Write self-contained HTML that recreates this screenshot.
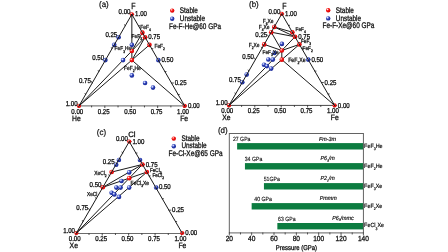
<!DOCTYPE html>
<html><head><meta charset="utf-8"><title>Phase diagrams</title>
<style>html,body{margin:0;padding:0;background:#fff;}svg{display:block;}</style></head><body>
<svg width="448" height="252" viewBox="0 0 448 252" font-family="Liberation Sans, sans-serif" text-rendering="geometricPrecision">
<defs>
<radialGradient id="gr" cx="0.36" cy="0.33" r="0.68"><stop offset="0" stop-color="#ffffff"/><stop offset="0.16" stop-color="#ff9a90"/><stop offset="0.42" stop-color="#f41616"/><stop offset="1" stop-color="#dc0000"/></radialGradient>
<radialGradient id="gb" cx="0.36" cy="0.33" r="0.68"><stop offset="0" stop-color="#ffffff"/><stop offset="0.2" stop-color="#a0aef0"/><stop offset="0.5" stop-color="#2a3eb2"/><stop offset="1" stop-color="#1a2a98"/></radialGradient>
</defs>
<rect x="0" y="0" width="448" height="252" fill="#fff"/>
<line x1="79.00" y1="105.90" x2="184.70" y2="105.90" stroke="#7e7e7e" stroke-width="1.3" stroke-linecap="round"/>
<line x1="78.40" y1="106.10" x2="78.40" y2="107.60" stroke="#222" stroke-width="0.8" stroke-linecap="round"/>
<line x1="91.61" y1="106.10" x2="91.61" y2="107.00" stroke="#222" stroke-width="0.8" stroke-linecap="round"/>
<line x1="104.83" y1="106.10" x2="104.83" y2="107.60" stroke="#222" stroke-width="0.8" stroke-linecap="round"/>
<line x1="118.04" y1="106.10" x2="118.04" y2="107.00" stroke="#222" stroke-width="0.8" stroke-linecap="round"/>
<line x1="131.25" y1="106.10" x2="131.25" y2="107.60" stroke="#222" stroke-width="0.8" stroke-linecap="round"/>
<line x1="144.46" y1="106.10" x2="144.46" y2="107.00" stroke="#222" stroke-width="0.8" stroke-linecap="round"/>
<line x1="157.67" y1="106.10" x2="157.67" y2="107.60" stroke="#222" stroke-width="0.8" stroke-linecap="round"/>
<line x1="170.89" y1="106.10" x2="170.89" y2="107.00" stroke="#222" stroke-width="0.8" stroke-linecap="round"/>
<line x1="184.10" y1="106.10" x2="184.10" y2="107.60" stroke="#222" stroke-width="0.8" stroke-linecap="round"/>
<line x1="184.70" y1="105.90" x2="186.70" y2="105.90" stroke="#222" stroke-width="0.8" stroke-linecap="round"/>
<line x1="178.09" y1="94.46" x2="179.29" y2="94.46" stroke="#222" stroke-width="0.8" stroke-linecap="round"/>
<line x1="171.49" y1="83.01" x2="173.49" y2="83.01" stroke="#222" stroke-width="0.8" stroke-linecap="round"/>
<line x1="164.88" y1="71.57" x2="166.08" y2="71.57" stroke="#222" stroke-width="0.8" stroke-linecap="round"/>
<line x1="158.27" y1="60.12" x2="160.27" y2="60.12" stroke="#222" stroke-width="0.8" stroke-linecap="round"/>
<line x1="151.67" y1="48.68" x2="152.87" y2="48.68" stroke="#222" stroke-width="0.8" stroke-linecap="round"/>
<line x1="145.06" y1="37.24" x2="147.06" y2="37.24" stroke="#222" stroke-width="0.8" stroke-linecap="round"/>
<line x1="138.46" y1="25.79" x2="139.66" y2="25.79" stroke="#222" stroke-width="0.8" stroke-linecap="round"/>
<line x1="131.85" y1="14.35" x2="133.85" y2="14.35" stroke="#222" stroke-width="0.8" stroke-linecap="round"/>
<line x1="131.85" y1="14.35" x2="130.85" y2="12.62" stroke="#222" stroke-width="0.8" stroke-linecap="round"/>
<line x1="125.24" y1="25.79" x2="124.64" y2="24.75" stroke="#222" stroke-width="0.8" stroke-linecap="round"/>
<line x1="118.64" y1="37.24" x2="117.64" y2="35.51" stroke="#222" stroke-width="0.8" stroke-linecap="round"/>
<line x1="112.03" y1="48.68" x2="111.43" y2="47.64" stroke="#222" stroke-width="0.8" stroke-linecap="round"/>
<line x1="105.42" y1="60.12" x2="104.42" y2="58.39" stroke="#222" stroke-width="0.8" stroke-linecap="round"/>
<line x1="98.82" y1="71.57" x2="98.22" y2="70.53" stroke="#222" stroke-width="0.8" stroke-linecap="round"/>
<line x1="92.21" y1="83.01" x2="91.21" y2="81.28" stroke="#222" stroke-width="0.8" stroke-linecap="round"/>
<line x1="85.61" y1="94.46" x2="85.01" y2="93.42" stroke="#222" stroke-width="0.8" stroke-linecap="round"/>
<line x1="79.00" y1="105.90" x2="78.00" y2="104.17" stroke="#222" stroke-width="0.8" stroke-linecap="round"/>
<text transform="translate(77.30 113.90) scale(0.855 1)" font-size="7.14" text-anchor="middle" fill="#111" stroke="#111" stroke-width="0.3" >0.00</text>
<text transform="translate(103.72 113.90) scale(0.855 1)" font-size="7.14" text-anchor="middle" fill="#111" stroke="#111" stroke-width="0.3" >0.25</text>
<text transform="translate(130.15 113.90) scale(0.855 1)" font-size="7.14" text-anchor="middle" fill="#111" stroke="#111" stroke-width="0.3" >0.50</text>
<text transform="translate(156.57 113.90) scale(0.855 1)" font-size="7.14" text-anchor="middle" fill="#111" stroke="#111" stroke-width="0.3" >0.75</text>
<text transform="translate(183.00 113.90) scale(0.855 1)" font-size="7.14" text-anchor="middle" fill="#111" stroke="#111" stroke-width="0.3" >1.00</text>
<text transform="translate(187.90 108.00) scale(0.855 1)" font-size="7.14" text-anchor="start" fill="#111" stroke="#111" stroke-width="0.3" >0.00</text>
<text transform="translate(174.69 85.11) scale(0.855 1)" font-size="7.14" text-anchor="start" fill="#111" stroke="#111" stroke-width="0.3" >0.25</text>
<text transform="translate(161.47 62.23) scale(0.855 1)" font-size="7.14" text-anchor="start" fill="#111" stroke="#111" stroke-width="0.3" >0.50</text>
<text transform="translate(148.26 39.34) scale(0.855 1)" font-size="7.14" text-anchor="start" fill="#111" stroke="#111" stroke-width="0.3" >0.75</text>
<text transform="translate(135.05 16.45) scale(0.855 1)" font-size="7.14" text-anchor="start" fill="#111" stroke="#111" stroke-width="0.3" >1.00</text>
<text transform="translate(130.45 14.15) scale(0.855 1)" font-size="7.14" text-anchor="end" fill="#111" stroke="#111" stroke-width="0.3" >0.00</text>
<text transform="translate(117.24 37.04) scale(0.855 1)" font-size="7.14" text-anchor="end" fill="#111" stroke="#111" stroke-width="0.3" >0.25</text>
<text transform="translate(104.02 59.92) scale(0.855 1)" font-size="7.14" text-anchor="end" fill="#111" stroke="#111" stroke-width="0.3" >0.50</text>
<text transform="translate(90.81 82.81) scale(0.855 1)" font-size="7.14" text-anchor="end" fill="#111" stroke="#111" stroke-width="0.3" >0.75</text>
<text transform="translate(77.60 105.70) scale(0.855 1)" font-size="7.14" text-anchor="end" fill="#111" stroke="#111" stroke-width="0.3" >1.00</text>
<circle cx="131.85" cy="14.35" r="2.1" fill="url(#gr)"/>
<circle cx="79.00" cy="105.90" r="2.1" fill="url(#gr)"/>
<circle cx="184.70" cy="105.90" r="2.1" fill="url(#gr)"/>
<line x1="131.85" y1="14.35" x2="131.85" y2="60.12" stroke="#1a1a1a" stroke-width="1.0" stroke-linecap="round"/>
<line x1="79.00" y1="105.90" x2="131.85" y2="50.97" stroke="#1a1a1a" stroke-width="1.0" stroke-linecap="round"/>
<line x1="79.00" y1="105.90" x2="131.85" y2="60.12" stroke="#1a1a1a" stroke-width="1.0" stroke-linecap="round"/>
<line x1="184.70" y1="105.90" x2="131.85" y2="60.12" stroke="#1a1a1a" stroke-width="1.0" stroke-linecap="round"/>
<line x1="142.42" y1="32.66" x2="131.85" y2="50.97" stroke="#1a1a1a" stroke-width="1.0" stroke-linecap="round"/>
<line x1="145.06" y1="37.24" x2="131.85" y2="50.97" stroke="#1a1a1a" stroke-width="1.0" stroke-linecap="round"/>
<line x1="145.06" y1="37.24" x2="131.85" y2="60.12" stroke="#1a1a1a" stroke-width="1.0" stroke-linecap="round"/>
<line x1="149.47" y1="44.87" x2="131.85" y2="60.12" stroke="#1a1a1a" stroke-width="1.0" stroke-linecap="round"/>
<circle cx="118.64" cy="37.24" r="2.3" fill="url(#gb)"/>
<circle cx="114.23" cy="44.87" r="2.3" fill="url(#gb)"/>
<circle cx="131.85" cy="44.87" r="2.3" fill="url(#gb)"/>
<circle cx="123.04" cy="60.12" r="2.3" fill="url(#gb)"/>
<circle cx="105.42" cy="60.12" r="2.3" fill="url(#gb)"/>
<circle cx="158.27" cy="60.12" r="2.3" fill="url(#gb)"/>
<circle cx="131.85" cy="75.38" r="2.3" fill="url(#gb)"/>
<circle cx="145.06" cy="83.01" r="2.3" fill="url(#gb)"/>
<circle cx="152.99" cy="87.59" r="2.3" fill="url(#gb)"/>
<circle cx="142.42" cy="32.66" r="2.3" fill="url(#gr)"/>
<circle cx="145.06" cy="37.24" r="2.3" fill="url(#gr)"/>
<circle cx="149.47" cy="44.87" r="2.3" fill="url(#gr)"/>
<circle cx="131.85" cy="50.97" r="2.3" fill="url(#gr)"/>
<circle cx="131.85" cy="60.12" r="2.3" fill="url(#gr)"/>
<line x1="79.00" y1="105.90" x2="131.85" y2="14.35" stroke="#1a1a1a" stroke-width="1.0" stroke-linecap="round"/>
<line x1="184.70" y1="105.90" x2="131.85" y2="14.35" stroke="#1a1a1a" stroke-width="1.0" stroke-linecap="round"/>
<text transform="translate(99.00 7.30) scale(0.980 1)" font-size="8.16" text-anchor="start" fill="#111" stroke="#111" stroke-width="0.2" >(a)</text>
<text transform="translate(131.20 8.60) scale(0.787 1)" font-size="8.89" text-anchor="start" fill="#111" stroke="#111" stroke-width="0.3" >F</text>
<text transform="translate(72.00 120.60) scale(0.870 1)" font-size="7.82" text-anchor="start" fill="#111" stroke="#111" stroke-width="0.3" >He</text>
<text transform="translate(180.20 120.60) scale(0.870 1)" font-size="7.82" text-anchor="start" fill="#111" stroke="#111" stroke-width="0.3" >Fe</text>
<text transform="translate(140.20 29.00) scale(0.833 1)" font-size="5.88" text-anchor="start" fill="#111" stroke="#111" stroke-width="0.28" >FeF<tspan font-size="3.9" dy="2.2">4</tspan></text>
<text transform="translate(131.60 37.60) scale(0.833 1)" font-size="5.76" text-anchor="start" fill="#111" stroke="#111" stroke-width="0.28" >FeF<tspan font-size="3.9" dy="2.2">3</tspan></text>
<text transform="translate(154.40 47.80) scale(0.833 1)" font-size="5.88" text-anchor="start" fill="#111" stroke="#111" stroke-width="0.28" >FeF<tspan font-size="3.9" dy="2.2">2</tspan></text>
<text transform="translate(114.60 50.40) scale(0.833 1)" font-size="5.76" text-anchor="start" fill="#111" stroke="#111" stroke-width="0.28" >FeF<tspan font-size="3.9" dy="2.2">3</tspan><tspan dy="-2.2">He</tspan></text>
<text transform="translate(124.00 69.70) scale(0.833 1)" font-size="5.88" text-anchor="start" fill="#111" stroke="#111" stroke-width="0.28" >FeF<tspan font-size="3.9" dy="2.2">2</tspan><tspan dy="-2.2">He</tspan></text>
<circle cx="172.20" cy="10.60" r="2.2" fill="url(#gr)"/>
<circle cx="172.20" cy="18.80" r="2.2" fill="url(#gb)"/>
<text transform="translate(179.80 12.70) scale(0.787 1)" font-size="8.13" text-anchor="start" fill="#111" stroke="#111" stroke-width="0.3" >Stable</text>
<text transform="translate(179.80 20.70) scale(0.787 1)" font-size="8.13" text-anchor="start" fill="#111" stroke="#111" stroke-width="0.3" >Unstable</text>
<text transform="translate(169.00 28.60) scale(0.787 1)" font-size="8.13" text-anchor="start" fill="#111" stroke="#111" stroke-width="0.3" >Fe-F-He@60 GPa</text>
<line x1="229.00" y1="105.42" x2="334.60" y2="105.42" stroke="#4a4a4a" stroke-width="1.0" stroke-linecap="round"/>
<line x1="228.40" y1="105.62" x2="228.40" y2="107.12" stroke="#222" stroke-width="0.8" stroke-linecap="round"/>
<line x1="241.60" y1="105.62" x2="241.60" y2="106.52" stroke="#222" stroke-width="0.8" stroke-linecap="round"/>
<line x1="254.80" y1="105.62" x2="254.80" y2="107.12" stroke="#222" stroke-width="0.8" stroke-linecap="round"/>
<line x1="268.00" y1="105.62" x2="268.00" y2="106.52" stroke="#222" stroke-width="0.8" stroke-linecap="round"/>
<line x1="281.20" y1="105.62" x2="281.20" y2="107.12" stroke="#222" stroke-width="0.8" stroke-linecap="round"/>
<line x1="294.40" y1="105.62" x2="294.40" y2="106.52" stroke="#222" stroke-width="0.8" stroke-linecap="round"/>
<line x1="307.60" y1="105.62" x2="307.60" y2="107.12" stroke="#222" stroke-width="0.8" stroke-linecap="round"/>
<line x1="320.80" y1="105.62" x2="320.80" y2="106.52" stroke="#222" stroke-width="0.8" stroke-linecap="round"/>
<line x1="334.00" y1="105.62" x2="334.00" y2="107.12" stroke="#222" stroke-width="0.8" stroke-linecap="round"/>
<line x1="334.60" y1="105.40" x2="336.60" y2="105.40" stroke="#222" stroke-width="0.8" stroke-linecap="round"/>
<line x1="328.00" y1="93.96" x2="329.20" y2="93.96" stroke="#222" stroke-width="0.8" stroke-linecap="round"/>
<line x1="321.40" y1="82.53" x2="323.40" y2="82.53" stroke="#222" stroke-width="0.8" stroke-linecap="round"/>
<line x1="314.80" y1="71.09" x2="316.00" y2="71.09" stroke="#222" stroke-width="0.8" stroke-linecap="round"/>
<line x1="308.20" y1="59.65" x2="310.20" y2="59.65" stroke="#222" stroke-width="0.8" stroke-linecap="round"/>
<line x1="301.60" y1="48.21" x2="302.80" y2="48.21" stroke="#222" stroke-width="0.8" stroke-linecap="round"/>
<line x1="295.00" y1="36.78" x2="297.00" y2="36.78" stroke="#222" stroke-width="0.8" stroke-linecap="round"/>
<line x1="288.40" y1="25.34" x2="289.60" y2="25.34" stroke="#222" stroke-width="0.8" stroke-linecap="round"/>
<line x1="281.80" y1="13.90" x2="283.80" y2="13.90" stroke="#222" stroke-width="0.8" stroke-linecap="round"/>
<line x1="281.80" y1="13.90" x2="280.80" y2="12.17" stroke="#222" stroke-width="0.8" stroke-linecap="round"/>
<line x1="275.20" y1="25.34" x2="274.60" y2="24.30" stroke="#222" stroke-width="0.8" stroke-linecap="round"/>
<line x1="268.60" y1="36.78" x2="267.60" y2="35.04" stroke="#222" stroke-width="0.8" stroke-linecap="round"/>
<line x1="262.00" y1="48.21" x2="261.40" y2="47.17" stroke="#222" stroke-width="0.8" stroke-linecap="round"/>
<line x1="255.40" y1="59.65" x2="254.40" y2="57.92" stroke="#222" stroke-width="0.8" stroke-linecap="round"/>
<line x1="248.80" y1="71.09" x2="248.20" y2="70.05" stroke="#222" stroke-width="0.8" stroke-linecap="round"/>
<line x1="242.20" y1="82.53" x2="241.20" y2="80.79" stroke="#222" stroke-width="0.8" stroke-linecap="round"/>
<line x1="235.60" y1="93.96" x2="235.00" y2="92.92" stroke="#222" stroke-width="0.8" stroke-linecap="round"/>
<line x1="229.00" y1="105.40" x2="228.00" y2="103.67" stroke="#222" stroke-width="0.8" stroke-linecap="round"/>
<text transform="translate(227.30 113.40) scale(0.855 1)" font-size="7.14" text-anchor="middle" fill="#111" stroke="#111" stroke-width="0.3" >0.00</text>
<text transform="translate(253.70 113.40) scale(0.855 1)" font-size="7.14" text-anchor="middle" fill="#111" stroke="#111" stroke-width="0.3" >0.25</text>
<text transform="translate(280.10 113.40) scale(0.855 1)" font-size="7.14" text-anchor="middle" fill="#111" stroke="#111" stroke-width="0.3" >0.50</text>
<text transform="translate(306.50 113.40) scale(0.855 1)" font-size="7.14" text-anchor="middle" fill="#111" stroke="#111" stroke-width="0.3" >0.75</text>
<text transform="translate(332.90 113.40) scale(0.855 1)" font-size="7.14" text-anchor="middle" fill="#111" stroke="#111" stroke-width="0.3" >1.00</text>
<text transform="translate(337.80 107.50) scale(0.855 1)" font-size="7.14" text-anchor="start" fill="#111" stroke="#111" stroke-width="0.3" >0.00</text>
<text transform="translate(324.60 84.62) scale(0.855 1)" font-size="7.14" text-anchor="start" fill="#111" stroke="#111" stroke-width="0.3" >0.25</text>
<text transform="translate(311.40 61.75) scale(0.855 1)" font-size="7.14" text-anchor="start" fill="#111" stroke="#111" stroke-width="0.3" >0.50</text>
<text transform="translate(298.20 38.88) scale(0.855 1)" font-size="7.14" text-anchor="start" fill="#111" stroke="#111" stroke-width="0.3" >0.75</text>
<text transform="translate(285.00 16.00) scale(0.855 1)" font-size="7.14" text-anchor="start" fill="#111" stroke="#111" stroke-width="0.3" >1.00</text>
<text transform="translate(280.40 13.70) scale(0.855 1)" font-size="7.14" text-anchor="end" fill="#111" stroke="#111" stroke-width="0.3" >0.00</text>
<text transform="translate(267.20 36.58) scale(0.855 1)" font-size="7.14" text-anchor="end" fill="#111" stroke="#111" stroke-width="0.3" >0.25</text>
<text transform="translate(254.00 59.45) scale(0.855 1)" font-size="7.14" text-anchor="end" fill="#111" stroke="#111" stroke-width="0.3" >0.50</text>
<text transform="translate(240.80 82.33) scale(0.855 1)" font-size="7.14" text-anchor="end" fill="#111" stroke="#111" stroke-width="0.3" >0.75</text>
<text transform="translate(227.60 105.20) scale(0.855 1)" font-size="7.14" text-anchor="end" fill="#111" stroke="#111" stroke-width="0.3" >1.00</text>
<circle cx="281.80" cy="13.90" r="2.1" fill="url(#gr)"/>
<circle cx="229.00" cy="105.40" r="2.1" fill="url(#gr)"/>
<circle cx="334.60" cy="105.40" r="2.1" fill="url(#gr)"/>
<line x1="274.26" y1="26.97" x2="292.36" y2="32.20" stroke="#1a1a1a" stroke-width="1.0" stroke-linecap="round"/>
<line x1="274.26" y1="26.97" x2="295.00" y2="36.78" stroke="#1a1a1a" stroke-width="1.0" stroke-linecap="round"/>
<line x1="271.24" y1="32.20" x2="295.00" y2="36.78" stroke="#1a1a1a" stroke-width="1.0" stroke-linecap="round"/>
<line x1="271.24" y1="32.20" x2="281.80" y2="50.50" stroke="#1a1a1a" stroke-width="1.0" stroke-linecap="round"/>
<line x1="264.20" y1="44.40" x2="281.80" y2="50.50" stroke="#1a1a1a" stroke-width="1.0" stroke-linecap="round"/>
<line x1="281.80" y1="50.50" x2="295.00" y2="36.78" stroke="#1a1a1a" stroke-width="1.0" stroke-linecap="round"/>
<line x1="281.80" y1="50.50" x2="299.40" y2="44.40" stroke="#1a1a1a" stroke-width="1.0" stroke-linecap="round"/>
<line x1="281.80" y1="50.50" x2="281.80" y2="59.65" stroke="#1a1a1a" stroke-width="1.0" stroke-linecap="round"/>
<line x1="281.80" y1="59.65" x2="299.40" y2="44.40" stroke="#1a1a1a" stroke-width="1.0" stroke-linecap="round"/>
<line x1="229.00" y1="105.40" x2="281.80" y2="50.50" stroke="#1a1a1a" stroke-width="1.0" stroke-linecap="round"/>
<line x1="229.00" y1="105.40" x2="281.80" y2="59.65" stroke="#1a1a1a" stroke-width="1.0" stroke-linecap="round"/>
<line x1="334.60" y1="105.40" x2="281.80" y2="59.65" stroke="#1a1a1a" stroke-width="1.0" stroke-linecap="round"/>
<circle cx="281.90" cy="43.90" r="2.3" fill="url(#gb)"/>
<circle cx="274.40" cy="53.00" r="2.3" fill="url(#gb)"/>
<circle cx="268.30" cy="59.50" r="2.3" fill="url(#gb)"/>
<circle cx="272.80" cy="59.60" r="2.3" fill="url(#gb)"/>
<circle cx="264.00" cy="64.70" r="2.3" fill="url(#gb)"/>
<circle cx="266.90" cy="66.10" r="2.3" fill="url(#gb)"/>
<circle cx="271.20" cy="68.60" r="2.3" fill="url(#gb)"/>
<circle cx="308.20" cy="59.60" r="2.3" fill="url(#gb)"/>
<circle cx="246.70" cy="74.60" r="2.3" fill="url(#gb)"/>
<circle cx="242.30" cy="82.20" r="2.3" fill="url(#gb)"/>
<circle cx="274.26" cy="26.97" r="2.3" fill="url(#gr)"/>
<circle cx="271.24" cy="32.20" r="2.3" fill="url(#gr)"/>
<circle cx="264.20" cy="44.40" r="2.3" fill="url(#gr)"/>
<circle cx="292.36" cy="32.20" r="2.3" fill="url(#gr)"/>
<circle cx="295.00" cy="36.78" r="2.3" fill="url(#gr)"/>
<circle cx="299.40" cy="44.40" r="2.3" fill="url(#gr)"/>
<circle cx="281.80" cy="50.50" r="2.3" fill="url(#gr)"/>
<circle cx="281.80" cy="59.65" r="2.3" fill="url(#gr)"/>
<line x1="229.00" y1="105.40" x2="281.80" y2="13.90" stroke="#1a1a1a" stroke-width="1.0" stroke-linecap="round"/>
<line x1="334.60" y1="105.40" x2="281.80" y2="13.90" stroke="#1a1a1a" stroke-width="1.0" stroke-linecap="round"/>
<text transform="translate(249.00 7.10) scale(0.980 1)" font-size="8.16" text-anchor="start" fill="#111" stroke="#111" stroke-width="0.2" >(b)</text>
<text transform="translate(282.20 8.60) scale(0.787 1)" font-size="8.89" text-anchor="start" fill="#111" stroke="#111" stroke-width="0.3" >F</text>
<text transform="translate(222.30 120.40) scale(0.870 1)" font-size="7.82" text-anchor="start" fill="#111" stroke="#111" stroke-width="0.3" >Xe</text>
<text transform="translate(330.80 120.40) scale(0.870 1)" font-size="7.82" text-anchor="start" fill="#111" stroke="#111" stroke-width="0.3" >Fe</text>
<text transform="translate(262.80 22.80) scale(0.833 1)" font-size="5.88" text-anchor="start" fill="#111" stroke="#111" stroke-width="0.28" >F<tspan font-size="3.9" dy="2.2">6</tspan><tspan dy="-2.2">Xe</tspan></text>
<text transform="translate(258.80 28.50) scale(0.833 1)" font-size="5.88" text-anchor="start" fill="#111" stroke="#111" stroke-width="0.28" >F<tspan font-size="3.9" dy="2.2">4</tspan><tspan dy="-2.2">Xe</tspan></text>
<text transform="translate(248.80 47.00) scale(0.833 1)" font-size="5.88" text-anchor="start" fill="#111" stroke="#111" stroke-width="0.28" >F<tspan font-size="3.9" dy="2.2">2</tspan><tspan dy="-2.2">Xe</tspan></text>
<text transform="translate(295.60 30.80) scale(0.833 1)" font-size="5.64" text-anchor="start" fill="#111" stroke="#111" stroke-width="0.28" >FeF<tspan font-size="3.9" dy="2.2">4</tspan></text>
<text transform="translate(301.00 43.20) scale(0.833 1)" font-size="5.64" text-anchor="start" fill="#111" stroke="#111" stroke-width="0.28" >FeF<tspan font-size="3.9" dy="2.2">3</tspan></text>
<text transform="translate(302.60 50.20) scale(0.833 1)" font-size="5.64" text-anchor="start" fill="#111" stroke="#111" stroke-width="0.28" >FeF<tspan font-size="3.9" dy="2.2">2</tspan></text>
<text transform="translate(262.60 53.90) scale(0.833 1)" font-size="5.64" text-anchor="start" fill="#111" stroke="#111" stroke-width="0.28" >FeF<tspan font-size="3.9" dy="2.2">3</tspan><tspan dy="-2.2">Xe</tspan></text>
<text transform="translate(288.20 61.60) scale(0.833 1)" font-size="6.24" text-anchor="start" fill="#111" stroke="#111" stroke-width="0.28" >FeF<tspan font-size="3.9" dy="2.2">2</tspan><tspan dy="-2.2">Xe</tspan></text>
<circle cx="328.20" cy="10.20" r="2.2" fill="url(#gr)"/>
<circle cx="328.20" cy="18.40" r="2.2" fill="url(#gb)"/>
<text transform="translate(335.80 12.70) scale(0.787 1)" font-size="8.13" text-anchor="start" fill="#111" stroke="#111" stroke-width="0.3" >Stable</text>
<text transform="translate(335.80 20.50) scale(0.787 1)" font-size="8.13" text-anchor="start" fill="#111" stroke="#111" stroke-width="0.3" >Unstable</text>
<text transform="translate(322.50 28.00) scale(0.787 1)" font-size="8.19" text-anchor="start" fill="#111" stroke="#111" stroke-width="0.3" >Fe-F-Xe@60 GPa</text>
<line x1="76.40" y1="233.50" x2="182.10" y2="233.50" stroke="#5a5a5a" stroke-width="0.9" stroke-linecap="round"/>
<line x1="75.80" y1="233.70" x2="75.80" y2="235.20" stroke="#222" stroke-width="0.8" stroke-linecap="round"/>
<line x1="89.01" y1="233.70" x2="89.01" y2="234.60" stroke="#222" stroke-width="0.8" stroke-linecap="round"/>
<line x1="102.23" y1="233.70" x2="102.23" y2="235.20" stroke="#222" stroke-width="0.8" stroke-linecap="round"/>
<line x1="115.44" y1="233.70" x2="115.44" y2="234.60" stroke="#222" stroke-width="0.8" stroke-linecap="round"/>
<line x1="128.65" y1="233.70" x2="128.65" y2="235.20" stroke="#222" stroke-width="0.8" stroke-linecap="round"/>
<line x1="141.86" y1="233.70" x2="141.86" y2="234.60" stroke="#222" stroke-width="0.8" stroke-linecap="round"/>
<line x1="155.08" y1="233.70" x2="155.08" y2="235.20" stroke="#222" stroke-width="0.8" stroke-linecap="round"/>
<line x1="168.29" y1="233.70" x2="168.29" y2="234.60" stroke="#222" stroke-width="0.8" stroke-linecap="round"/>
<line x1="181.50" y1="233.70" x2="181.50" y2="235.20" stroke="#222" stroke-width="0.8" stroke-linecap="round"/>
<line x1="182.10" y1="233.00" x2="184.10" y2="233.00" stroke="#222" stroke-width="0.8" stroke-linecap="round"/>
<line x1="175.49" y1="221.57" x2="176.69" y2="221.57" stroke="#222" stroke-width="0.8" stroke-linecap="round"/>
<line x1="168.89" y1="210.15" x2="170.89" y2="210.15" stroke="#222" stroke-width="0.8" stroke-linecap="round"/>
<line x1="162.28" y1="198.72" x2="163.48" y2="198.72" stroke="#222" stroke-width="0.8" stroke-linecap="round"/>
<line x1="155.68" y1="187.30" x2="157.68" y2="187.30" stroke="#222" stroke-width="0.8" stroke-linecap="round"/>
<line x1="149.07" y1="175.88" x2="150.27" y2="175.88" stroke="#222" stroke-width="0.8" stroke-linecap="round"/>
<line x1="142.46" y1="164.45" x2="144.46" y2="164.45" stroke="#222" stroke-width="0.8" stroke-linecap="round"/>
<line x1="135.86" y1="153.02" x2="137.06" y2="153.02" stroke="#222" stroke-width="0.8" stroke-linecap="round"/>
<line x1="129.25" y1="141.60" x2="131.25" y2="141.60" stroke="#222" stroke-width="0.8" stroke-linecap="round"/>
<line x1="129.25" y1="141.60" x2="128.25" y2="139.87" stroke="#222" stroke-width="0.8" stroke-linecap="round"/>
<line x1="122.64" y1="153.02" x2="122.04" y2="151.99" stroke="#222" stroke-width="0.8" stroke-linecap="round"/>
<line x1="116.04" y1="164.45" x2="115.04" y2="162.72" stroke="#222" stroke-width="0.8" stroke-linecap="round"/>
<line x1="109.43" y1="175.88" x2="108.83" y2="174.84" stroke="#222" stroke-width="0.8" stroke-linecap="round"/>
<line x1="102.83" y1="187.30" x2="101.83" y2="185.57" stroke="#222" stroke-width="0.8" stroke-linecap="round"/>
<line x1="96.22" y1="198.72" x2="95.62" y2="197.69" stroke="#222" stroke-width="0.8" stroke-linecap="round"/>
<line x1="89.61" y1="210.15" x2="88.61" y2="208.42" stroke="#222" stroke-width="0.8" stroke-linecap="round"/>
<line x1="83.01" y1="221.57" x2="82.41" y2="220.54" stroke="#222" stroke-width="0.8" stroke-linecap="round"/>
<line x1="76.40" y1="233.00" x2="75.40" y2="231.27" stroke="#222" stroke-width="0.8" stroke-linecap="round"/>
<text transform="translate(74.70 241.00) scale(0.855 1)" font-size="7.14" text-anchor="middle" fill="#111" stroke="#111" stroke-width="0.3" >0.00</text>
<text transform="translate(101.12 241.00) scale(0.855 1)" font-size="7.14" text-anchor="middle" fill="#111" stroke="#111" stroke-width="0.3" >0.25</text>
<text transform="translate(127.55 241.00) scale(0.855 1)" font-size="7.14" text-anchor="middle" fill="#111" stroke="#111" stroke-width="0.3" >0.50</text>
<text transform="translate(153.98 241.00) scale(0.855 1)" font-size="7.14" text-anchor="middle" fill="#111" stroke="#111" stroke-width="0.3" >0.75</text>
<text transform="translate(180.40 241.00) scale(0.855 1)" font-size="7.14" text-anchor="middle" fill="#111" stroke="#111" stroke-width="0.3" >1.00</text>
<text transform="translate(185.30 235.10) scale(0.855 1)" font-size="7.14" text-anchor="start" fill="#111" stroke="#111" stroke-width="0.3" >0.00</text>
<text transform="translate(172.09 212.25) scale(0.855 1)" font-size="7.14" text-anchor="start" fill="#111" stroke="#111" stroke-width="0.3" >0.25</text>
<text transform="translate(158.88 189.40) scale(0.855 1)" font-size="7.14" text-anchor="start" fill="#111" stroke="#111" stroke-width="0.3" >0.50</text>
<text transform="translate(145.66 166.55) scale(0.855 1)" font-size="7.14" text-anchor="start" fill="#111" stroke="#111" stroke-width="0.3" >0.75</text>
<text transform="translate(132.45 143.70) scale(0.855 1)" font-size="7.14" text-anchor="start" fill="#111" stroke="#111" stroke-width="0.3" >1.00</text>
<text transform="translate(127.85 141.40) scale(0.855 1)" font-size="7.14" text-anchor="end" fill="#111" stroke="#111" stroke-width="0.3" >0.00</text>
<text transform="translate(114.64 164.25) scale(0.855 1)" font-size="7.14" text-anchor="end" fill="#111" stroke="#111" stroke-width="0.3" >0.25</text>
<text transform="translate(101.42 187.10) scale(0.855 1)" font-size="7.14" text-anchor="end" fill="#111" stroke="#111" stroke-width="0.3" >0.50</text>
<text transform="translate(88.21 209.95) scale(0.855 1)" font-size="7.14" text-anchor="end" fill="#111" stroke="#111" stroke-width="0.3" >0.75</text>
<text transform="translate(75.00 232.80) scale(0.855 1)" font-size="7.14" text-anchor="end" fill="#111" stroke="#111" stroke-width="0.3" >1.00</text>
<circle cx="129.25" cy="141.60" r="2.1" fill="url(#gr)"/>
<circle cx="76.40" cy="233.00" r="2.1" fill="url(#gr)"/>
<circle cx="182.10" cy="233.00" r="2.1" fill="url(#gr)"/>
<line x1="111.63" y1="172.07" x2="142.46" y2="164.45" stroke="#1a1a1a" stroke-width="1.0" stroke-linecap="round"/>
<line x1="102.83" y1="187.30" x2="142.46" y2="164.45" stroke="#1a1a1a" stroke-width="1.0" stroke-linecap="round"/>
<line x1="102.83" y1="187.30" x2="129.25" y2="178.16" stroke="#1a1a1a" stroke-width="1.0" stroke-linecap="round"/>
<line x1="129.25" y1="178.16" x2="142.46" y2="164.45" stroke="#1a1a1a" stroke-width="1.0" stroke-linecap="round"/>
<line x1="129.25" y1="178.16" x2="146.87" y2="172.07" stroke="#1a1a1a" stroke-width="1.0" stroke-linecap="round"/>
<line x1="76.40" y1="233.00" x2="129.25" y2="178.16" stroke="#1a1a1a" stroke-width="1.0" stroke-linecap="round"/>
<line x1="76.40" y1="233.00" x2="146.87" y2="172.07" stroke="#1a1a1a" stroke-width="1.0" stroke-linecap="round"/>
<circle cx="118.90" cy="160.00" r="2.3" fill="url(#gb)"/>
<circle cx="116.20" cy="164.80" r="2.3" fill="url(#gb)"/>
<circle cx="140.00" cy="160.00" r="2.3" fill="url(#gb)"/>
<circle cx="129.20" cy="172.40" r="2.3" fill="url(#gb)"/>
<circle cx="121.50" cy="181.00" r="2.3" fill="url(#gb)"/>
<circle cx="116.40" cy="187.60" r="2.3" fill="url(#gb)"/>
<circle cx="120.60" cy="187.60" r="2.3" fill="url(#gb)"/>
<circle cx="129.20" cy="187.60" r="2.3" fill="url(#gb)"/>
<circle cx="111.60" cy="192.80" r="2.3" fill="url(#gb)"/>
<circle cx="114.40" cy="194.40" r="2.3" fill="url(#gb)"/>
<circle cx="119.00" cy="196.90" r="2.3" fill="url(#gb)"/>
<circle cx="156.20" cy="187.50" r="2.3" fill="url(#gb)"/>
<circle cx="142.46" cy="164.45" r="2.3" fill="url(#gr)"/>
<circle cx="146.87" cy="172.07" r="2.3" fill="url(#gr)"/>
<circle cx="111.63" cy="172.07" r="2.3" fill="url(#gr)"/>
<circle cx="102.83" cy="187.30" r="2.3" fill="url(#gr)"/>
<circle cx="129.25" cy="178.16" r="2.3" fill="url(#gr)"/>
<line x1="76.40" y1="233.00" x2="129.25" y2="141.60" stroke="#1a1a1a" stroke-width="1.0" stroke-linecap="round"/>
<line x1="182.10" y1="233.00" x2="129.25" y2="141.60" stroke="#1a1a1a" stroke-width="1.0" stroke-linecap="round"/>
<text transform="translate(96.80 134.70) scale(0.980 1)" font-size="8.16" text-anchor="start" fill="#111" stroke="#111" stroke-width="0.2" >(c)</text>
<text transform="translate(128.20 136.60) scale(1.000 1)" font-size="7.70" text-anchor="start" fill="#111" stroke="#111" stroke-width="0.3" >Cl</text>
<text transform="translate(69.60 248.20) scale(0.870 1)" font-size="7.82" text-anchor="start" fill="#111" stroke="#111" stroke-width="0.3" >Xe</text>
<text transform="translate(178.40 248.20) scale(0.870 1)" font-size="7.82" text-anchor="start" fill="#111" stroke="#111" stroke-width="0.3" >Fe</text>
<text transform="translate(94.20 174.50) scale(0.833 1)" font-size="5.88" text-anchor="start" fill="#111" stroke="#111" stroke-width="0.28" >XeCl<tspan font-size="3.9" dy="2.2">2</tspan></text>
<text transform="translate(87.00 195.60) scale(0.833 1)" font-size="5.76" text-anchor="start" fill="#111" stroke="#111" stroke-width="0.28" >XeCl</text>
<text transform="translate(150.00 171.60) scale(0.833 1)" font-size="5.52" text-anchor="start" fill="#111" stroke="#111" stroke-width="0.28" >FeCl<tspan font-size="3.9" dy="2.2">3</tspan></text>
<text transform="translate(152.50 177.20) scale(0.833 1)" font-size="5.52" text-anchor="start" fill="#111" stroke="#111" stroke-width="0.28" >FeCl<tspan font-size="3.9" dy="2.2">2</tspan></text>
<text transform="translate(130.60 184.60) scale(0.833 1)" font-size="6.00" text-anchor="start" fill="#111" stroke="#111" stroke-width="0.28" >FeCl<tspan font-size="3.9" dy="2.2">3</tspan><tspan dy="-2.2">Xe</tspan></text>
<circle cx="173.80" cy="138.60" r="2.2" fill="url(#gr)"/>
<circle cx="173.80" cy="146.30" r="2.2" fill="url(#gb)"/>
<text transform="translate(181.40 140.80) scale(0.787 1)" font-size="8.13" text-anchor="start" fill="#111" stroke="#111" stroke-width="0.3" >Stable</text>
<text transform="translate(181.40 148.30) scale(0.787 1)" font-size="8.13" text-anchor="start" fill="#111" stroke="#111" stroke-width="0.3" >Unstable</text>
<text transform="translate(168.50 155.80) scale(0.787 1)" font-size="8.19" text-anchor="start" fill="#111" stroke="#111" stroke-width="0.3" >Fe-Cl-Xe@65 GPa</text>
<rect x="237.12" y="143.10" width="126.28" height="6.4" fill="#0c7c40"/>
<text transform="translate(232.90 140.80) scale(0.870 1)" font-size="5.98" text-anchor="start" fill="#111" stroke="#111" stroke-width="0.13" >27 GPa</text>
<text transform="translate(319.00 140.90) scale(0.926 1)" font-size="5.83" text-anchor="start" fill="#111" stroke="#111" stroke-width="0.18" font-style="italic" >Fm-3m</text>
<text transform="translate(364.10 147.50) scale(0.893 1)" font-size="6.05" text-anchor="start" fill="#111" stroke="#111" stroke-width="0.2" >FeF<tspan font-size="3.9" dy="2.2">3</tspan><tspan dy="-2.2">He</tspan></text>
<rect x="244.94" y="163.10" width="118.45" height="6.4" fill="#0c7c40"/>
<text transform="translate(244.70 161.10) scale(0.870 1)" font-size="5.98" text-anchor="start" fill="#111" stroke="#111" stroke-width="0.13" >34 GPa</text>
<text transform="translate(320.40 160.40) scale(0.926 1)" font-size="5.83" text-anchor="start" fill="#111" stroke="#111" stroke-width="0.18" font-style="italic" >P6<tspan font-size="3.4" dy="1.4">3</tspan><tspan dy="-1.4">/m</tspan></text>
<text transform="translate(364.10 167.50) scale(0.893 1)" font-size="6.05" text-anchor="start" fill="#111" stroke="#111" stroke-width="0.2" >FeF<tspan font-size="3.9" dy="2.2">2</tspan><tspan dy="-2.2">He</tspan></text>
<rect x="263.94" y="183.10" width="99.46" height="6.4" fill="#0c7c40"/>
<text transform="translate(263.70 181.20) scale(0.870 1)" font-size="5.98" text-anchor="start" fill="#111" stroke="#111" stroke-width="0.13" >51GPa</text>
<text transform="translate(320.40 180.40) scale(0.926 1)" font-size="5.83" text-anchor="start" fill="#111" stroke="#111" stroke-width="0.18" font-style="italic" >P2<tspan font-size="3.4" dy="1.4">1</tspan><tspan dy="-1.4">/m</tspan></text>
<text transform="translate(364.10 187.50) scale(0.893 1)" font-size="6.05" text-anchor="start" fill="#111" stroke="#111" stroke-width="0.2" >FeF<tspan font-size="3.9" dy="2.2">3</tspan><tspan dy="-2.2">Xe</tspan></text>
<rect x="251.65" y="203.10" width="111.75" height="6.4" fill="#0c7c40"/>
<text transform="translate(254.30 200.50) scale(0.870 1)" font-size="5.98" text-anchor="start" fill="#111" stroke="#111" stroke-width="0.13" >40 GPa</text>
<text transform="translate(319.70 200.40) scale(0.926 1)" font-size="5.83" text-anchor="start" fill="#111" stroke="#111" stroke-width="0.18" font-style="italic" >Pmmm</text>
<text transform="translate(364.10 207.50) scale(0.893 1)" font-size="6.05" text-anchor="start" fill="#111" stroke="#111" stroke-width="0.2" >FeF<tspan font-size="3.9" dy="2.2">2</tspan><tspan dy="-2.2">Xe</tspan></text>
<rect x="277.35" y="223.00" width="86.05" height="6.4" fill="#0c7c40"/>
<text transform="translate(278.00 220.70) scale(0.870 1)" font-size="5.98" text-anchor="start" fill="#111" stroke="#111" stroke-width="0.13" >63 GPa</text>
<text transform="translate(332.20 219.60) scale(0.926 1)" font-size="5.83" text-anchor="start" fill="#111" stroke="#111" stroke-width="0.18" font-style="italic" >P6<tspan font-size="3.4" dy="1.4">3</tspan><tspan dy="-1.4">/mmc</tspan></text>
<text transform="translate(364.10 227.40) scale(0.893 1)" font-size="6.05" text-anchor="start" fill="#111" stroke="#111" stroke-width="0.2" >FeCl<tspan font-size="3.9" dy="2.2">3</tspan><tspan dy="-2.2">Xe</tspan></text>
<rect x="229.3" y="133.5" width="134.10" height="99.40" fill="none" stroke="#5c5c5c" stroke-width="0.95"/>
<line x1="229.30" y1="232.90" x2="229.30" y2="235.10" stroke="#1a1a1a" stroke-width="0.7" stroke-linecap="round"/>
<text transform="translate(229.30 240.70) scale(0.893 1)" font-size="7.39" text-anchor="middle" fill="#111" stroke="#111" stroke-width="0.3" >20</text>
<line x1="240.48" y1="232.90" x2="240.48" y2="234.10" stroke="#1a1a1a" stroke-width="0.7" stroke-linecap="round"/>
<line x1="251.65" y1="232.90" x2="251.65" y2="235.10" stroke="#1a1a1a" stroke-width="0.7" stroke-linecap="round"/>
<text transform="translate(251.65 240.70) scale(0.893 1)" font-size="7.39" text-anchor="middle" fill="#111" stroke="#111" stroke-width="0.3" >40</text>
<line x1="262.82" y1="232.90" x2="262.82" y2="234.10" stroke="#1a1a1a" stroke-width="0.7" stroke-linecap="round"/>
<line x1="274.00" y1="232.90" x2="274.00" y2="235.10" stroke="#1a1a1a" stroke-width="0.7" stroke-linecap="round"/>
<text transform="translate(274.00 240.70) scale(0.893 1)" font-size="7.39" text-anchor="middle" fill="#111" stroke="#111" stroke-width="0.3" >60</text>
<line x1="285.18" y1="232.90" x2="285.18" y2="234.10" stroke="#1a1a1a" stroke-width="0.7" stroke-linecap="round"/>
<line x1="296.35" y1="232.90" x2="296.35" y2="235.10" stroke="#1a1a1a" stroke-width="0.7" stroke-linecap="round"/>
<text transform="translate(296.35 240.70) scale(0.893 1)" font-size="7.39" text-anchor="middle" fill="#111" stroke="#111" stroke-width="0.3" >80</text>
<line x1="307.52" y1="232.90" x2="307.52" y2="234.10" stroke="#1a1a1a" stroke-width="0.7" stroke-linecap="round"/>
<line x1="318.70" y1="232.90" x2="318.70" y2="235.10" stroke="#1a1a1a" stroke-width="0.7" stroke-linecap="round"/>
<text transform="translate(318.70 240.70) scale(0.893 1)" font-size="7.39" text-anchor="middle" fill="#111" stroke="#111" stroke-width="0.3" >100</text>
<line x1="329.88" y1="232.90" x2="329.88" y2="234.10" stroke="#1a1a1a" stroke-width="0.7" stroke-linecap="round"/>
<line x1="341.05" y1="232.90" x2="341.05" y2="235.10" stroke="#1a1a1a" stroke-width="0.7" stroke-linecap="round"/>
<text transform="translate(341.05 240.70) scale(0.893 1)" font-size="7.39" text-anchor="middle" fill="#111" stroke="#111" stroke-width="0.3" >120</text>
<line x1="352.22" y1="232.90" x2="352.22" y2="234.10" stroke="#1a1a1a" stroke-width="0.7" stroke-linecap="round"/>
<line x1="363.40" y1="232.90" x2="363.40" y2="235.10" stroke="#1a1a1a" stroke-width="0.7" stroke-linecap="round"/>
<text transform="translate(363.40 240.70) scale(0.893 1)" font-size="7.39" text-anchor="middle" fill="#111" stroke="#111" stroke-width="0.3" >140</text>
<text transform="translate(275.80 250.40) scale(0.870 1)" font-size="6.84" text-anchor="start" fill="#111" stroke="#111" stroke-width="0.3" >Pressure (GPa)</text>
<text transform="translate(217.90 133.20) scale(0.980 1)" font-size="8.16" text-anchor="start" fill="#111" stroke="#111" stroke-width="0.2" >(d)</text>
</svg></body></html>
